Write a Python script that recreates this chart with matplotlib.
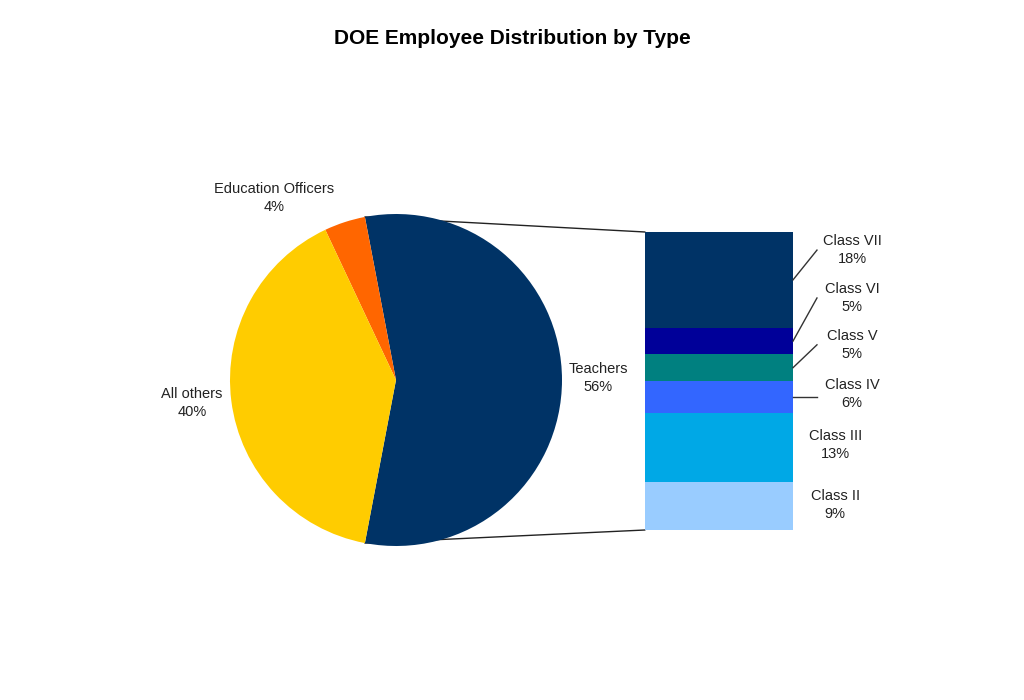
import numpy as np
import matplotlib.pyplot as plt
from matplotlib.patches import ConnectionPatch

plt.rcParams['font.family'] = ['Liberation Sans', 'DejaVu Sans']

# pie data (counter-clockwise from Teachers)
pie_labels = ['Teachers', 'Education Officers', 'All others']
pie_values = [56, 4, 40]
pie_colors = ['#003366', '#FF6600', '#FFCC00']

# teacher breakdown, bottom to top
class_labels = ['Class II', 'Class III', 'Class IV', 'Class V', 'Class VI', 'Class VII']
class_values = [9, 13, 6, 5, 5, 18]
class_colors = ['#99CCFF', '#00A8E6', '#3366FF', '#008080', '#000099', '#003366']

fig = plt.figure(figsize=(10.24, 7), dpi=100)
fig.suptitle('DOE Employee Distribution by Type', fontsize=15, fontweight='bold',
             y=1 - 38 / 700, va='center')

# pie axes
ax1 = fig.add_axes([230 / 1024, 154 / 700, 332 / 1024, 332 / 700])
start = -pie_values[0] / 100 * 360 / 2
wedges, _ = ax1.pie(pie_values, colors=pie_colors, startangle=start,
                    counterclock=True, radius=1,
                    wedgeprops=dict(linewidth=0))
ax1.set_xlim(-1, 1)
ax1.set_ylim(-1, 1)
ax1.set_aspect('equal')
ax1.axis('off')

fs = 10.5
lbl_pos = [(1.217, 0.012), (-0.735, 1.096), (-1.229, -0.139)]
for (x, y), name, v in zip(lbl_pos, pie_labels, pie_values):
    ax1.text(x, y, f'{name}\n{v}%', ha='center', va='center', fontsize=fs,
             linespacing=1.35, color='#222222')

# bar axes
ax2 = fig.add_axes([645 / 1024, 170 / 700, 148 / 1024, 298 / 700])
bottom = 0
mids = []
for v, c in zip(class_values, class_colors):
    ax2.bar(0, v, width=1, bottom=bottom, color=c, linewidth=0)
    mids.append(bottom + v / 2)
    bottom += v
ax2.set_xlim(-0.5, 0.5)
ax2.set_ylim(0, sum(class_values))
ax2.axis('off')

# label positions (data coords of bar axes) and whether a leader line is drawn
cls_pos = [(0.785, 4.7), (0.785, 16.0), (0.899, 25.5), (0.899, 34.8), (0.899, 43.6), (0.899, 52.6)]
leader = [False, False, True, True, True, True]
for (x, y), name, v, m, ld in zip(cls_pos, class_labels, class_values, mids, leader):
    ax2.text(x, y, f'{name}\n{v}%', ha='center', va='center', fontsize=fs,
             linespacing=1.35, color='#222222', clip_on=False)
    if ld:
        ty = m if name == 'Class IV' else y
        ax2.plot([0.5, 0.662], [m, ty], color='#333333', lw=1, clip_on=False)

# connecting lines from teachers wedge edges to bar
theta1, theta2 = np.radians(wedges[0].theta1), np.radians(wedges[0].theta2)
total = sum(class_values)
for ang, yb in [(theta2, total), (theta1, 0)]:
    con = ConnectionPatch(xyA=(-0.5, yb), coordsA=ax2.transData,
                          xyB=(np.cos(ang), np.sin(ang)), coordsB=ax1.transData,
                          color='#222222', lw=1)
    con.set_zorder(0)
    ax1.add_artist(con)

fig.savefig('out.png', dpi=100)
